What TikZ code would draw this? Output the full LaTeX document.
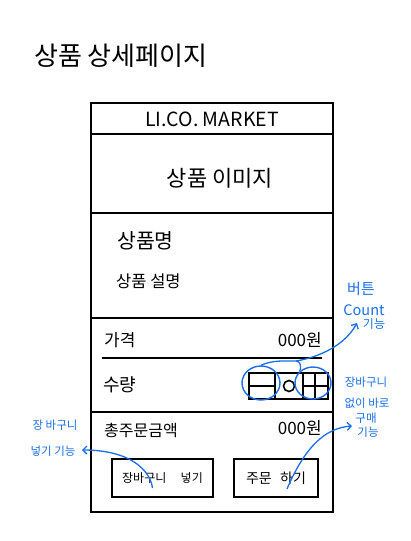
\documentclass[tikz,border=0pt]{standalone}
\usepackage{fontspec}
\setmainfont{Noto Sans CJK KR}
\usetikzlibrary{arrows.meta,shapes.geometric}
\definecolor{pen}{RGB}{25,110,235}
\tikzset{
  frameline/.style={line width=2pt},
  thinline/.style={line width=1.6pt},
  lbl/.style={inner sep=0pt},
  note/.style={text=pen, inner sep=0pt, font=\fontsize{11.5}{11.5}\selectfont},
  penline/.style={draw=pen, line width=1.3pt, -{Straight Barb[length=4pt,width=8pt]}},
  penring/.style={ellipse, draw=pen, line width=1.4pt, inner sep=0pt},
  btnbox/.style={draw, line width=2pt, minimum height=38pt, inner sep=0pt}
}
\begin{document}
\begin{tikzpicture}[x=1pt,y=-1pt]
\useasboundingbox (0,0) rectangle (411,541);
% title
\node[lbl, anchor=west, font=\fontsize{26}{26}\selectfont] (title) at (34,56) {상품 상세페이지};
% frame
\draw[frameline] (91,103) rectangle (333,512);
\draw[frameline] (91,134) -- (333,134);
\draw[frameline] (91,213) -- (333,213);
\draw[frameline] (91,318) -- (333,318);
\draw[frameline] (102,358) -- (322,358);
\draw[frameline] (91,412) -- (333,412);
% texts
\node[lbl, font=\fontsize{19.5}{19.5}\selectfont] (brand) at (212,119) {LI.CO. MARKET};
\node[lbl, font=\fontsize{22}{22}\selectfont] (img) at (220,178) {상품 이미지};
\node[lbl, anchor=west, font=\fontsize{20.5}{20.5}\selectfont] (pname) at (117,241) {상품명};
\node[lbl, anchor=west, font=\fontsize{16.5}{16.5}\selectfont] (pdesc) at (116,281) {상품 설명};
\node[lbl, anchor=west, font=\fontsize{17}{17}\selectfont] (price) at (104,340) {가격};
\node[lbl, anchor=east, font=\fontsize{17}{17}\selectfont] (priceval) at (322,340) {000원};
\node[lbl, anchor=west, font=\fontsize{18}{18}\selectfont] (qty) at (103,385) {수량};
\node[lbl, anchor=west, font=\fontsize{16}{16}\selectfont] (total) at (104,430) {총주문금액};
\node[lbl, anchor=east, font=\fontsize{17}{17}\selectfont] (totalval) at (322,428) {000원};
% quantity widget
\draw[thinline] (249,373) rectangle (328,399);
\draw[thinline] (275,373) -- (275,399);
\draw[thinline] (303,373) -- (303,399);
\draw[thinline] (249,386) -- (275,386);
\draw[thinline] (315,373) -- (315,399);
\draw[thinline] (303,386) -- (328,386);
\draw[thinline] (289,386) circle (5.5);
% buttons
\node[btnbox, minimum width=101pt, font=\fontsize{12}{12}\selectfont] (cart) at (162.5,478) {장바구니\hspace{1.2em}넣기};
\node[btnbox, minimum width=84pt, font=\fontsize{14}{14}\selectfont] (order) at (276,478) {주문\hspace{0.6em}하기};
% blue rings
\node[penring, minimum width=38pt, minimum height=34pt] (minus) at (261,383) {};
\node[penring, minimum width=36pt, minimum height=32pt] (plus) at (313,383) {};
% notes
\node[note, font=\fontsize{15}{15}\selectfont] (n1) at (361,289) {버튼};
\node[note, font=\fontsize{14.5}{14.5}\selectfont] (n2) at (364,310) {Count};
\node[note, font=\fontsize{12}{12}\selectfont] (n3) at (374,324) {기능};
\coordinate (tip1) at (357,323);
\node[note] (r1) at (366,382) {장바구니};
\node[note] (r2) at (367,403) {없이 바로};
\node[note] (r3) at (366,418) {구매};
\node[note] (r4) at (368,432) {기능};
\coordinate (tip2) at (352,426);
\node[note] (l1) at (55,425) {장 바구니};
\node[note] (l2) at (53,451) {넣기 기능};
\coordinate (tip3) at (82,450);
\coordinate (join) at (296,361);
% connectors
\draw[penline] (minus.north) .. controls (272,360) and (285,361) .. (join) .. controls (320,357) and (345,345) .. (tip1);
\draw[draw=pen, line width=1.3pt] (plus.north west) .. controls (302,364) and (299,361) .. (join);
\draw[penline] ([xshift=11pt,yshift=-11pt]order.center) .. controls (305,447) and (325,428) .. (tip2);
\draw[penline] ([xshift=-10pt,yshift=-10pt]cart.center) .. controls (150,470) and (130,450) .. (tip3);
\end{tikzpicture}
\end{document}
